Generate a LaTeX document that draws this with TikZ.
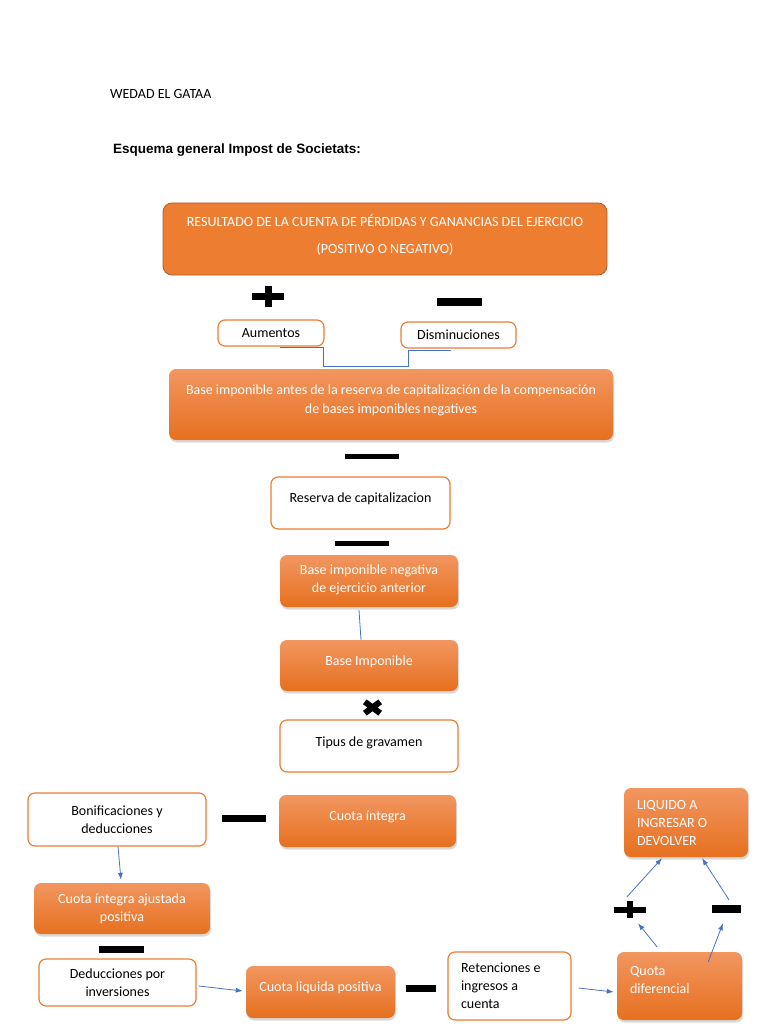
\documentclass[tikz,border=0pt]{standalone}
\usepackage{fontspec}
\setmainfont{Carlito}
\newfontfamily\arialfont{Liberation Sans}
\usetikzlibrary{shadows,arrows.meta}

\definecolor{boxorange}{HTML}{ED7D31}
\definecolor{boxedge}{HTML}{B35D22}
\definecolor{shadetop}{HTML}{F29660}
\definecolor{shadebot}{HTML}{E6701F}
\definecolor{linkblue}{HTML}{4472C4}

\begin{document}
\begin{tikzpicture}[x=1pt, y=-1pt,
    font=\fontsize{14}{18}\selectfont,
    plainbox/.style={draw=boxorange, line width=1.2pt, fill=white, rounded corners=7pt, align=center, inner sep=0pt},
    flatbox/.style={draw=boxedge, line width=0.8pt, fill=boxorange, rounded corners=9pt, text=white, align=center, inner sep=0pt},
    shadebox/.style={top color=shadetop, bottom color=shadebot, rounded corners=7pt, text=white, align=center, inner sep=0pt,
        drop shadow={shadow xshift=1pt, shadow yshift=-2.5pt, opacity=0.3}},
    lift/.style={execute at end node={\rule[-#1]{0pt}{#1}}},
    bar/.style={fill=black, inner sep=0pt},
    sign/.style={inner sep=0pt},
    link/.style={draw=linkblue, line width=0.8pt},
    arrow/.style={link, -{Latex[length=7pt, width=5pt]}}]

    \useasboundingbox (0,0) rectangle (768,1024);

    % Heading
    \node[anchor=base west, inner sep=0pt] (author) at (110,98.5) {WEDAD EL GATAA};
    \node[anchor=base west, inner sep=0pt, font=\arialfont\bfseries\fontsize{13.5}{16}\selectfont] (title) at (113,154) {Esquema general Impost de Societats:};

    % Result of the year
    \node[flatbox, minimum width=444pt, minimum height=72pt, lift=10.5pt] (result) at (385,239)
        {RESULTADO DE LA CUENTA DE PÉRDIDAS Y GANANCIAS DEL EJERCICIO\\[9pt](POSITIVO O NEGATIVO)};

    \node[sign, minimum width=31pt, minimum height=21pt] (plusA) at (268,296.5) {};
    \node[bar, minimum width=45pt, minimum height=8pt] (minusA) at (459.5,301.5) {};

    \node[plainbox, minimum width=106pt, minimum height=26pt] (aumentos) at (271,333) {Aumentos};
    \node[plainbox, minimum width=115pt, minimum height=26pt] (disminuciones) at (458.5,335) {Disminuciones};

    % Base before the reserve
    \node[shadebox, minimum width=444pt, minimum height=71pt, lift=11.5pt] (baseantes) at (391,404.5)
        {Base imponible antes de la reserva de capitalización de la compensación\\[1pt]de bases imponibles negatives};

    \node[bar, minimum width=54pt, minimum height=5pt] (minusB) at (372,456.5) {};
    \node[plainbox, minimum width=179pt, minimum height=52pt, lift=11.5pt] (reserva) at (360.5,503) {Reserva de capitalizacion};

    \node[bar, minimum width=54pt, minimum height=5pt] (minusC) at (362,543) {};
    \node[shadebox, minimum width=178pt, minimum height=52pt, lift=5.5pt] (basenegativa) at (369,581) {Base imponible negativa\\de ejercicio anterior};
    \node[shadebox, minimum width=178pt, minimum height=51pt, lift=10.5pt] (baseimponible) at (369,665.5) {Base Imponible};

    \node[sign, minimum width=15pt, minimum height=11pt] (times) at (372.5,707.5) {};
    \node[plainbox, minimum width=178pt, minimum height=52pt, lift=9.5pt] (tipus) at (369,746) {Tipus de gravamen};

    % Cuota
    \node[plainbox, minimum width=178pt, minimum height=53pt] (bonif) at (117,819.5) {Bonificaciones y\\deducciones};
    \node[bar, minimum width=44pt, minimum height=7pt] (minusD) at (244,818) {};
    \node[shadebox, minimum width=177pt, minimum height=52pt, lift=11.5pt] (integra) at (367.5,821) {Cuota íntegra};

    \node[shadebox, minimum width=176pt, minimum height=51pt] (ajustada) at (122,908.5) {Cuota íntegra ajustada\\positiva};
    \node[bar, minimum width=45pt, minimum height=7pt] (minusE) at (121.5,949.5) {};
    \node[plainbox, minimum width=157pt, minimum height=47pt] (deduc) at (117.5,982.5) {Deducciones por\\inversiones};

    \node[shadebox, minimum width=149pt, minimum height=52pt, lift=11.5pt] (liquida) at (320.5,992) {Cuota liquida positiva};
    \node[bar, minimum width=30pt, minimum height=7pt] (minusF) at (421,988.5) {};
    \node[plainbox, align=flush left, text width=97pt, inner xsep=13pt, minimum height=68pt] (reten) at (509.5,986) {Retenciones e\\ingresos a\\cuenta};

    % Final result
    \node[shadebox, align=flush left, text width=99pt, inner xsep=13pt, minimum height=68pt, lift=11.5pt] (quota) at (679.5,986) {Quota\\diferencial};
    \node[sign, minimum width=32pt, minimum height=17pt] (plusB) at (630,909.5) {};
    \node[bar, minimum width=29pt, minimum height=8pt] (minusG) at (726.5,909) {};
    \node[shadebox, align=flush left, text width=98pt, inner xsep=13pt, minimum height=69pt] (liquido) at (686,822.5) {LIQUIDO A\\INGRESAR O\\DEVOLVER};

    % Plus and times signs
    \foreach \p/\w in {plusA/7pt, plusB/6pt}
        \draw[line width=\w] (\p.west) -- (\p.east) (\p.north) -- (\p.south);
    \draw[line width=6pt] (times.north west) -- (times.south east) (times.south west) -- (times.north east);

    % Blue links
    \draw[link] ([xshift=9pt,yshift=-1pt]aumentos.south) -| ([xshift=-1pt,yshift=-20pt]aumentos.south east)
        -| ([xshift=8pt,yshift=-2pt]disminuciones.south west) -- ([xshift=-7.5pt,yshift=-2pt]disminuciones.south);
    \draw[link] ([xshift=-10pt,yshift=-3pt]basenegativa.south) -- ([xshift=-8pt]baseimponible.north);

    \draw[arrow] ([xshift=1pt]bonif.south) -- ([xshift=-1pt,yshift=3pt]ajustada.north);
    \draw[arrow] ([xshift=2pt,yshift=-3.5pt]deduc.east) -- ([xshift=-3pt,yshift=1pt]liquida.west);
    \draw[arrow] ([xshift=7pt,yshift=-2pt]reten.east) -- ([xshift=-3pt,yshift=-6pt]quota.west);
    \draw[arrow] ([xshift=-22.5pt,yshift=5pt]quota.north) -- ([xshift=8pt,yshift=-5pt]plusB.south);
    \draw[arrow] ([xshift=-34pt,yshift=-10pt]quota.north east) -- ([xshift=-3.5pt,yshift=-10pt]minusG.south);
    \draw[arrow] ([xshift=-3pt,yshift=4pt]plusB.north) -- ([xshift=-24pt,yshift=-1pt]liquido.south);
    \draw[arrow] ([xshift=2.5pt,yshift=5pt]minusG.north) -- ([xshift=16pt,yshift=-1pt]liquido.south);

\end{tikzpicture}
\end{document}
